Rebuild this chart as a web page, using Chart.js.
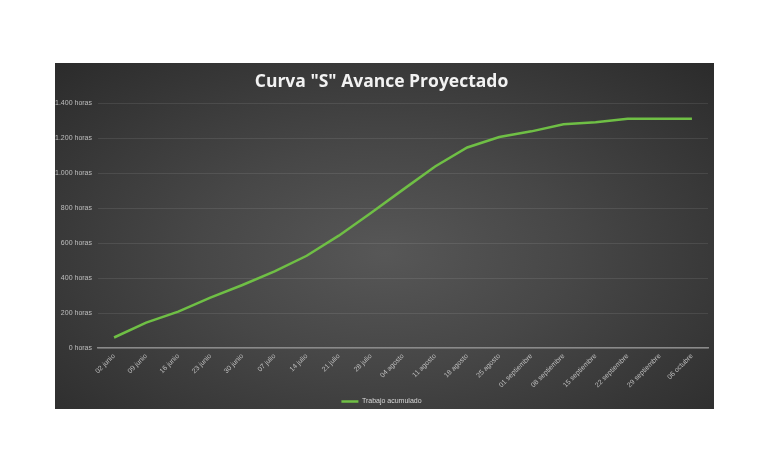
<!DOCTYPE html>
<html>
<head>
<meta charset="utf-8">
<script src="https://cdn.jsdelivr.net/npm/chart.js@4/dist/chart.umd.min.js"></script>
<style>
  body { margin: 0; background: #ffffff; }
  #panel {
    position: absolute; left: 55px; top: 63px; width: 659px; height: 346px;
    background: radial-gradient(ellipse at 50% 55%, #575757 0%, #474747 40%, #2b2b2b 100%);
  }
</style>
</head>
<body>
<div id="panel"><canvas id="curva" width="659" height="346"></canvas></div>
<script>
// semanas del proyecto
var semanas = ["02 junio", "09 junio", "16 junio", "23 junio", "30 junio", "07 julio", "14 julio",
    "21 julio", "28 julio", "04 agosto", "11 agosto", "18 agosto", "25 agosto", "01 septiembre",
    "08 septiembre", "15 septiembre", "22 septiembre", "29 septiembre", "06 octubre"];
// horas acumuladas
var trabajoAcumulado = [60, 145, 208, 288, 360, 438, 527, 642, 772, 905, 1037, 1146, 1206, 1238,
    1278, 1290, 1310, 1310, 1310];
var yMax = 1400;
var yPaso = 200;

function formatoHoras(v) {
    var s = String(v);
    if (v >= 1000) { s = s.slice(0, s.length - 3) + "." + s.slice(s.length - 3); }
    return s + " horas";
}

new Chart(document.getElementById("curva"), {
    type: 'line',
    data: {
        labels: semanas,
        datasets: [{
            label: "Trabajo acumulado",
            data: trabajoAcumulado,
            borderColor: "#6fbf45",
            backgroundColor: "#6fbf45",
            borderWidth: 2.5,
            pointRadius: 0,
            tension: 0
        }]
    },
    options: {
        responsive: false,
        animation: false,
        devicePixelRatio: 1,
        layout: { padding: { left: 0, right: 6, top: 0, bottom: -6 } },
        plugins: {
            title: {
                display: true,
                text: 'Curva "S" Avance Proyectado',
                color: "#f2f2f2",
                font: { family: "'Open Sans'", size: 17.5, weight: 'bold' },
                padding: { top: 9, bottom: 10 }
            },
            legend: {
                position: 'bottom',
                labels: {
                    color: "#d9d9d9",
                    font: { family: "'Liberation Sans'", size: 7 },
                    usePointStyle: true,
                    pointStyle: 'line',
                    pointStyleWidth: 17,
                    boxHeight: 2,
                    padding: 4
                }
            },
            tooltip: { enabled: false }
        },
        scales: {
            x: {
                offset: true,
                grid: { display: false, drawTicks: false },
                border: { color: "#8a8a8a", width: 1.5 },
                ticks: {
                    color: "#bfbfbf",
                    font: { family: "'Liberation Sans'", size: 7 },
                    minRotation: 45, maxRotation: 45,
                    autoSkip: false,
                    padding: 4
                },
                afterFit: function(axis) { axis.height = 46; }
            },
            y: {
                min: 0, max: yMax,
                grid: { color: "rgba(255,255,255,0.09)", drawTicks: false },
                border: { display: false },
                ticks: {
                    stepSize: yPaso,
                    color: "#bfbfbf",
                    font: { family: "'Liberation Sans'", size: 7 },
                    padding: 6,
                    callback: function(v) { return formatoHoras(v); }
                },
                afterFit: function(axis) { axis.width = 43; }
            }
        }
    }
});
</script>
</body>
</html>
